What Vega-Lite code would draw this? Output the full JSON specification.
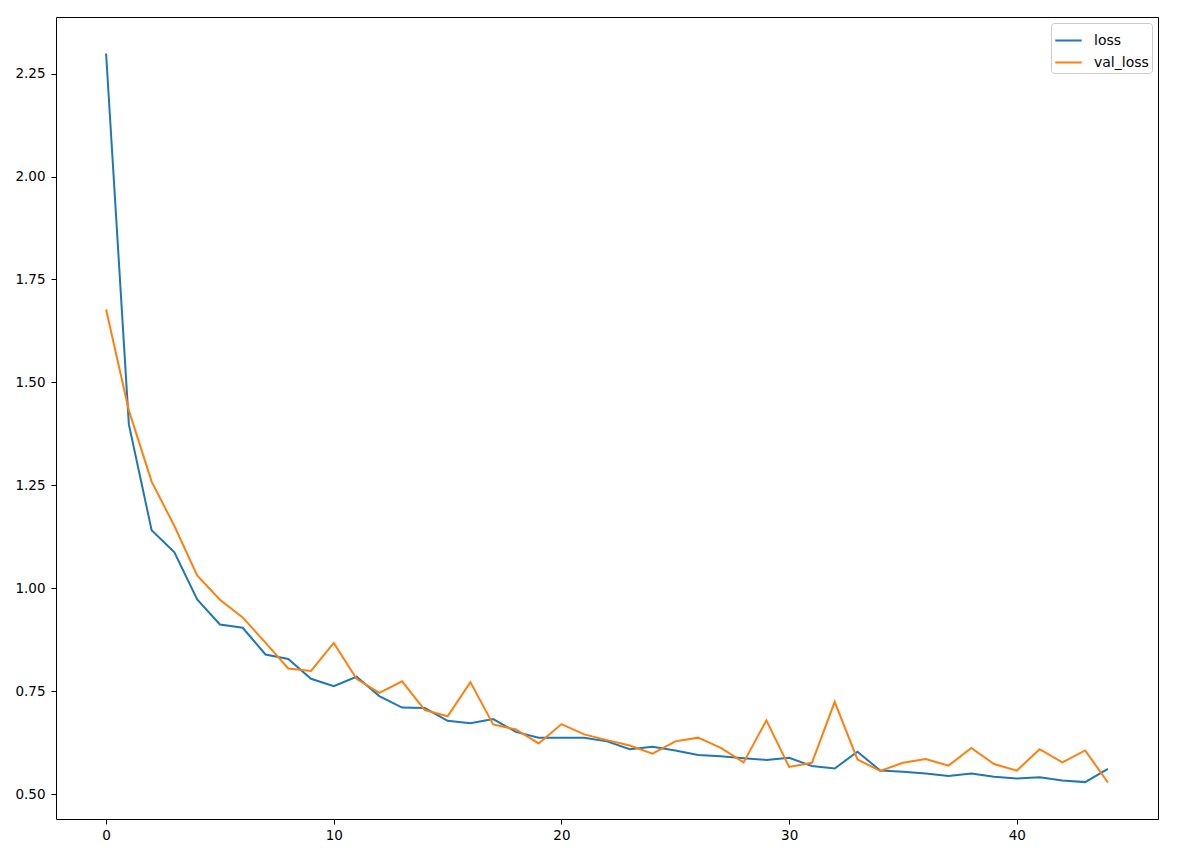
{
  "$schema": "https://vega.github.io/schema/vega-lite/v6.json",
  "autosize": {"type": "none"},
  "width": 1102,
  "height": 802,
  "padding": {"left": 56, "top": 17, "right": 19, "bottom": 38},
  "background": "white",
  "config": {
    "font": "DejaVu Sans",
    "view": {"stroke": "black", "strokeWidth": 1},
    "axis": {
      "domain": false,
      "grid": false,
      "ticks": true,
      "tickColor": "black",
      "tickSize": 5,
      "tickWidth": 1,
      "labelColor": "black",
      "labelFont": "DejaVu Sans",
      "labelFontSize": 13.5,
      "title": null
    }
  },
  "data": {
    "values": [
      {"epoch": 0, "loss": 2.299, "val_loss": 1.677},
      {"epoch": 1, "loss": 1.398, "val_loss": 1.432},
      {"epoch": 2, "loss": 1.141, "val_loss": 1.259},
      {"epoch": 3, "loss": 1.087, "val_loss": 1.151},
      {"epoch": 4, "loss": 0.973, "val_loss": 1.031},
      {"epoch": 5, "loss": 0.912, "val_loss": 0.972},
      {"epoch": 6, "loss": 0.904, "val_loss": 0.929},
      {"epoch": 7, "loss": 0.839, "val_loss": 0.868},
      {"epoch": 8, "loss": 0.828, "val_loss": 0.805},
      {"epoch": 9, "loss": 0.780, "val_loss": 0.799},
      {"epoch": 10, "loss": 0.762, "val_loss": 0.867},
      {"epoch": 11, "loss": 0.785, "val_loss": 0.780},
      {"epoch": 12, "loss": 0.738, "val_loss": 0.746},
      {"epoch": 13, "loss": 0.710, "val_loss": 0.774},
      {"epoch": 14, "loss": 0.709, "val_loss": 0.704},
      {"epoch": 15, "loss": 0.678, "val_loss": 0.689},
      {"epoch": 16, "loss": 0.672, "val_loss": 0.772},
      {"epoch": 17, "loss": 0.682, "val_loss": 0.669},
      {"epoch": 18, "loss": 0.651, "val_loss": 0.657},
      {"epoch": 19, "loss": 0.637, "val_loss": 0.623},
      {"epoch": 20, "loss": 0.637, "val_loss": 0.670},
      {"epoch": 21, "loss": 0.637, "val_loss": 0.645},
      {"epoch": 22, "loss": 0.628, "val_loss": 0.631},
      {"epoch": 23, "loss": 0.609, "val_loss": 0.618},
      {"epoch": 24, "loss": 0.615, "val_loss": 0.598},
      {"epoch": 25, "loss": 0.606, "val_loss": 0.628},
      {"epoch": 26, "loss": 0.595, "val_loss": 0.637},
      {"epoch": 27, "loss": 0.592, "val_loss": 0.612},
      {"epoch": 28, "loss": 0.587, "val_loss": 0.577},
      {"epoch": 29, "loss": 0.583, "val_loss": 0.679},
      {"epoch": 30, "loss": 0.588, "val_loss": 0.566},
      {"epoch": 31, "loss": 0.568, "val_loss": 0.576},
      {"epoch": 32, "loss": 0.562, "val_loss": 0.724},
      {"epoch": 33, "loss": 0.603, "val_loss": 0.584},
      {"epoch": 34, "loss": 0.557, "val_loss": 0.556},
      {"epoch": 35, "loss": 0.554, "val_loss": 0.576},
      {"epoch": 36, "loss": 0.550, "val_loss": 0.585},
      {"epoch": 37, "loss": 0.544, "val_loss": 0.569},
      {"epoch": 38, "loss": 0.550, "val_loss": 0.612},
      {"epoch": 39, "loss": 0.542, "val_loss": 0.573},
      {"epoch": 40, "loss": 0.538, "val_loss": 0.557},
      {"epoch": 41, "loss": 0.541, "val_loss": 0.609},
      {"epoch": 42, "loss": 0.533, "val_loss": 0.577},
      {"epoch": 43, "loss": 0.529, "val_loss": 0.606},
      {"epoch": 44, "loss": 0.561, "val_loss": 0.528}
    ]
  },
  "transform": [{"fold": ["loss", "val_loss"], "as": ["series", "value"]}],
  "mark": {"type": "line", "strokeWidth": 2, "clip": true},
  "encoding": {
    "x": {
      "field": "epoch",
      "type": "quantitative",
      "scale": {"domain": [-2.2, 46.2], "nice": false, "zero": false},
      "axis": {"values": [0, 10, 20, 30, 40], "format": "d", "labelPadding": 4}
    },
    "y": {
      "field": "value",
      "type": "quantitative",
      "scale": {"domain": [0.4394, 2.3876], "nice": false, "zero": false},
      "axis": {"values": [0.5, 0.75, 1.0, 1.25, 1.5, 1.75, 2.0, 2.25], "format": ".2f", "labelPadding": 6}
    },
    "color": {
      "field": "series",
      "type": "nominal",
      "scale": {"domain": ["loss", "val_loss"], "range": ["#1f77b4", "#ff7f0e"]},
      "legend": {
        "title": null,
        "orient": "top-right",
        "offset": 6,
        "symbolType": "stroke",
        "symbolSize": 700,
        "symbolStrokeWidth": 2,
        "labelFontSize": 14,
        "labelFont": "DejaVu Sans",
        "labelColor": "black",
        "labelOffset": 11,
        "rowPadding": 0,
        "padding": 3,
        "strokeColor": "#cccccc",
        "fillColor": "white",
        "cornerRadius": 3
      }
    }
  }
}
